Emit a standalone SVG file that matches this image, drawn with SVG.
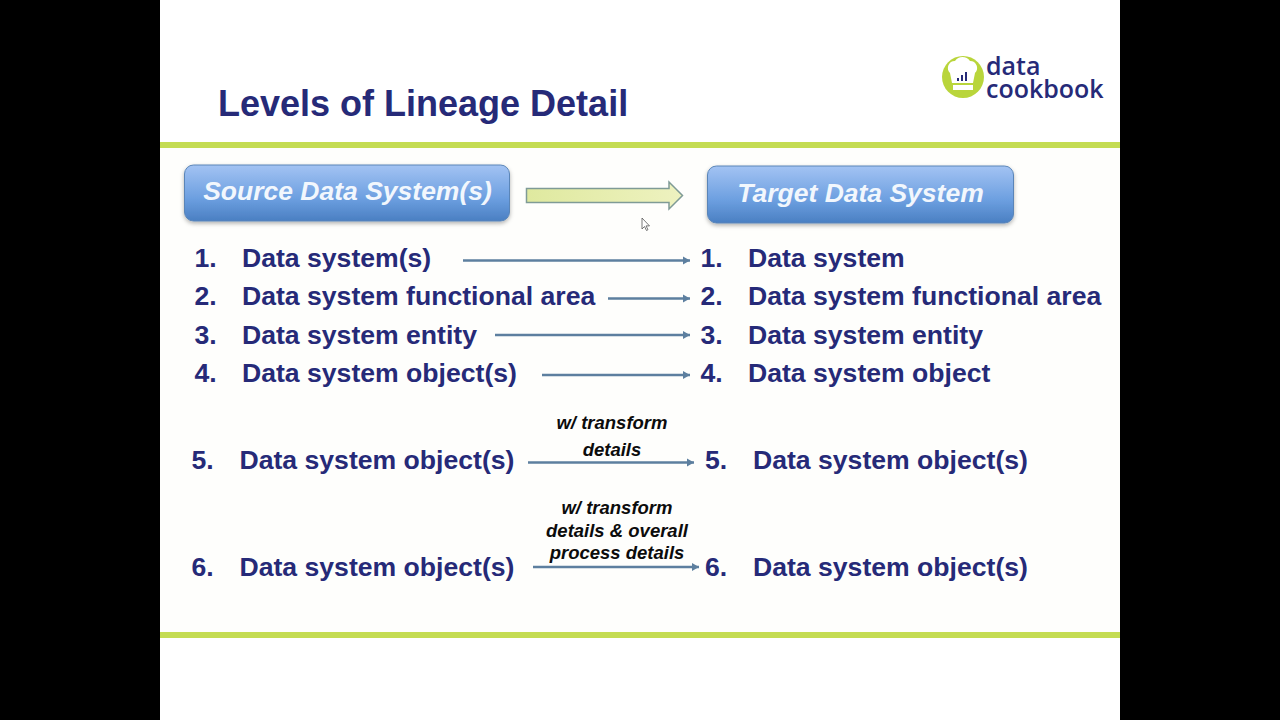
<svg xmlns="http://www.w3.org/2000/svg" width="1280" height="720" viewBox="0 0 1280 720">
<style>
text{font-family:"Liberation Sans",Arial,sans-serif}
.t{font-weight:700;font-size:26.600px;fill:#262a78}
.n{font-weight:700;font-size:26.600px;fill:#262a78}
.c{font-weight:700;font-style:italic;font-size:18.500px;fill:#0c0c0c;text-anchor:middle}
.h{font-weight:700;font-style:italic;font-size:26.500px;fill:#f2f7fd;text-anchor:middle}
.l{stroke:#5d7f9f;stroke-width:2.400;fill:none;marker-end:url(#a)}
.o{font-family:"Open Sans",sans-serif;font-size:25px;font-weight:600;fill:#262a78}
</style>
<defs>
<marker id="a" markerUnits="userSpaceOnUse" markerWidth="9" markerHeight="10" refX="7" refY="5" orient="auto"><path d="M0 1L7 5L0 9z" fill="#5d7f9f"/></marker>
<linearGradient id="b" x1="0" y1="0" x2="0" y2="1"><stop offset="0" stop-color="#a3c3f3"/><stop offset=".6" stop-color="#6c9fe0"/><stop offset="1" stop-color="#4a7fc2"/></linearGradient>
<linearGradient id="g" x1="0" y1="0" x2="1" y2="0"><stop offset="0" stop-color="#dfe99f"/><stop offset="1" stop-color="#eef2c0"/></linearGradient>
<filter id="s" x="-5%" y="-10%" width="110%" height="125%"><feDropShadow dx="0" dy="2" stdDeviation="2" flood-color="#000" flood-opacity=".3"/></filter>
</defs>
<rect width="1280" height="720" fill="#000"/>
<rect x="160" width="960" height="720" fill="#fff"/>
<rect x="160" y="148" width="960" height="484" fill="#fefefc"/>
<rect x="160" y="142" width="960" height="6" fill="#c4dc52"/>
<rect x="160" y="632" width="960" height="6" fill="#c4dc52"/>
<text x="218" y="116" font-size="36" font-weight="700" fill="#262a78" font-family="Liberation Sans">Levels of Lineage Detail</text>
<g id="logo">
<circle cx="963" cy="77" r="21" fill="#b9d53b"/>
<path d="M950 73a7 7 0 0 1 5-12a9 9 0 0 1 15 0a7 7 0 0 1 5 12l-2 10h-21z" fill="#fff"/>
<rect x="953" y="85" width="20" height="5" fill="#fff"/>
<path d="M958 81v-3M962 81v-6M966 81v-9" stroke="#262a78" stroke-width="2"/>
<text x="986" y="75" class="o">data</text>
<text x="986" y="98" class="o">cookbook</text>
</g>
<g id="source"><rect x="184.500" y="165" width="325" height="56" rx="9" fill="url(#b)" stroke="#5a85b8" filter="url(#s)"/><text x="347.500" y="199.500" class="h">Source Data System(s)</text></g>
<g id="target"><rect x="707.500" y="166" width="306" height="57" rx="9" fill="url(#b)" stroke="#5a85b8" filter="url(#s)"/><text x="860.500" y="201.500" class="h">Target Data System</text></g>
<g id="flow"><path d="M526.500 188.500H669V182L682.500 195.500L669 209V202.500H526.500z" fill="url(#g)" stroke="#7f9b96" stroke-width="1.500"/></g>
<path id="cursor" d="M642 218v11l2.500-2.500l2 4l1.500-.8l-2-3.800h3.500z" fill="#fff" stroke="#555" stroke-width=".8"/>
<g id="connectors">
<path class="l" d="M463 260.500H690"/>
<path class="l" d="M608 298.500H690"/>
<path class="l" d="M495 335H690"/>
<path class="l" d="M542 375H690"/>
<path class="l" d="M528 462.500H694"/>
<path class="l" d="M533 567H699"/>
</g>
<g id="left1"><text x="194.500" y="267" class="n">1.</text><text x="242" y="267" class="t">Data system(s)</text></g>
<g id="left2"><text x="194.500" y="305" class="n">2.</text><text x="242" y="305" class="t">Data system functional area</text></g>
<g id="left3"><text x="194.500" y="344" class="n">3.</text><text x="242" y="344" class="t">Data system entity</text></g>
<g id="left4"><text x="194.500" y="382" class="n">4.</text><text x="242" y="382" class="t">Data system object(s)</text></g>
<g id="left5"><text x="191.500" y="469" class="n">5.</text><text x="239.500" y="469" class="t">Data system object(s)</text></g>
<g id="left6"><text x="191.500" y="576" class="n">6.</text><text x="239.500" y="576" class="t">Data system object(s)</text></g>
<g id="right1"><text x="700.500" y="267" class="n">1.</text><text x="748" y="267" class="t">Data system</text></g>
<g id="right2"><text x="700.500" y="305" class="n">2.</text><text x="748" y="305" class="t">Data system functional area</text></g>
<g id="right3"><text x="700.500" y="344" class="n">3.</text><text x="748" y="344" class="t">Data system entity</text></g>
<g id="right4"><text x="700.500" y="382" class="n">4.</text><text x="748" y="382" class="t">Data system object</text></g>
<g id="right5"><text x="705" y="469" class="n">5.</text><text x="753" y="469" class="t">Data system object(s)</text></g>
<g id="right6"><text x="705" y="576" class="n">6.</text><text x="753" y="576" class="t">Data system object(s)</text></g>
<g id="label5"><text x="612" y="428.500" class="c">w/ transform</text><text x="612" y="455.500" class="c">details</text></g>
<g id="label6"><text x="617" y="513.500" class="c">w/ transform</text><text x="617" y="536.500" class="c">details &amp; overall</text><text x="617" y="558.500" class="c">process details</text></g>
</svg>
